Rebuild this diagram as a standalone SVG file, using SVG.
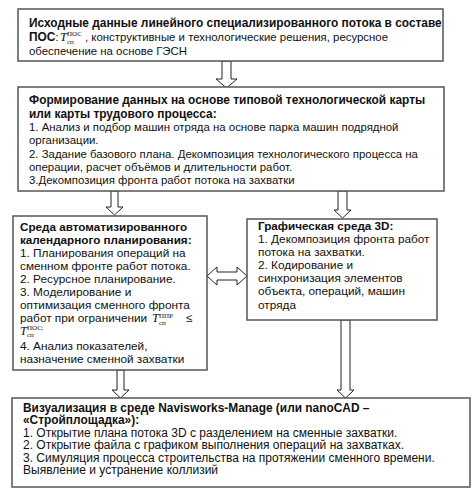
<svg xmlns="http://www.w3.org/2000/svg" width="474" height="493" viewBox="0 0 474 493">
<style>
.box{fill:#fff;stroke:#555;stroke-width:1.5}
.arr{fill:#fff;stroke:#222;stroke-width:1}
text{font-family:"Liberation Sans",Arial,sans-serif;font-size:11.4px;fill:#111}
.b{font-weight:bold;font-size:11.9px}
.r12{font-size:11.8px}
.b12{font-weight:bold;font-size:11.7px}
.r5{font-size:12px}
.m{font-family:"Liberation Serif","Times New Roman",serif;font-style:italic;font-size:12.5px}
.s{font-family:"Liberation Serif","Times New Roman",serif;font-size:7px}
</style>
<rect width="474" height="493" fill="#fff"/>
<g id="connectors">
<path class="arr" d="M222,61 V79 H216 L226.5,88 L237,79 H231 V61 Z"/>
<path class="arr" d="M111,191 V207 H106 L114.5,215 L123,207 H118 V191 Z"/>
<path class="arr" d="M338,191 V210 H334 L342.5,218 L351,210 H347 V191 Z"/>
<path class="arr" d="M207,276 L217,267 V272 H237 V267 L247,276 L237,285 V280 H217 V285 Z"/>
<path class="arr" d="M117,370 V390 H112 L120.5,398 L129,390 H124 V370 Z"/>
<path class="arr" d="M341,320 V390 H337 L345.5,398 L354,390 H350 V320 Z"/>
</g>
<g id="n1">
<rect class="box" x="18" y="9" width="425" height="52"/>
<text x="29" y="27" class="b">Исходные данные линейного специализированного потока в составе</text>
<text x="29" y="41"><tspan class="b">ПОС</tspan>:</text>
<text x="60" y="41" class="m">T</text>
<text x="67" y="43.5" class="s">сп</text>
<text x="67" y="35.5" class="s">ПОС</text>
<text x="85" y="41">, конструктивные и технологические решения, ресурсное</text>
<text x="29" y="55">обеспечение на основе ГЭСН</text>
</g>
<g id="n2">
<rect class="box" x="18" y="87" width="426" height="104"/>
<text x="29" y="104" class="b">Формирование данных на основе типовой технологической карты</text>
<text x="29" y="117.5" class="b">или карты трудового процесса:</text>
<text x="29" y="131">1. Анализ и подбор машин отряда на основе парка машин подрядной</text>
<text x="29" y="144">организации.</text>
<text x="29" y="157.5">2. Задание базового плана. Декомпозиция технологического процесса на</text>
<text x="29" y="170.5">операции, расчет объёмов и длительности работ.</text>
<text x="29" y="184">3.Декомпозиция фронта работ потока на захватки</text>
</g>
<g id="n3">
<rect class="box" x="13" y="216" width="194" height="154"/>
<text x="20" y="231" class="b12">Среда автоматизированного</text>
<text x="20" y="244" class="b12">календарного планирования:</text>
<text x="20" y="257" class="r12">1. Планирования операций на</text>
<text x="20" y="270" class="r12">сменном фронте работ потока.</text>
<text x="20" y="283" class="r12">2. Ресурсное планирование.</text>
<text x="20" y="296" class="r12">3. Моделирование и</text>
<text x="20" y="309" class="r12">оптимизация сменного фронта</text>
<text x="20" y="322" class="r12">работ при ограничении</text>
<text x="152" y="322" class="m">T</text>
<text x="159" y="324.5" class="s">сп</text>
<text x="159" y="317.5" class="s">ППР</text>
<text x="186" y="322" class="r12">≤</text>
<text x="20" y="335" class="m">T</text>
<text x="27" y="337" class="s">сп</text>
<text x="27" y="330" class="s">ПОС</text>
<text x="41" y="330" class="s">;</text>
<text x="20" y="349.5" class="r12">4. Анализ показателей,</text>
<text x="20" y="362.5" class="r12">назначение сменной захватки</text>
</g>
<g id="n4">
<rect class="box" x="247" y="219" width="190" height="101"/>
<text x="258" y="230" class="b12">Графическая среда 3D:</text>
<text x="258" y="243" class="r12">1. Декомпозиция фронта работ</text>
<text x="258" y="256" class="r12">потока на захватки.</text>
<text x="258" y="269" class="r12">2. Кодирование и</text>
<text x="258" y="282" class="r12">синхронизация элементов</text>
<text x="258" y="295" class="r12">объекта, операций, машин</text>
<text x="258" y="309" class="r12">отряда</text>
</g>
<g id="n5">
<rect class="box" x="12" y="398" width="458" height="89"/>
<text x="23" y="411.5" class="b">Визуализация в среде Navisworks-Manage (или nanoCAD –</text>
<text x="23" y="424" class="b">«Стройплощадка»):</text>
<text x="23" y="436.5" class="r5">1. Открытие плана потока 3D с разделением на сменные захватки.</text>
<text x="23" y="449" class="r5">2. Открытие файла с графиком выполнения операций на захватках.</text>
<text x="23" y="461.5" class="r5">3. Симуляция процесса строительства на протяжении сменного времени.</text>
<text x="23" y="474" class="r5">Выявление и устранение коллизий</text>
</g>
</svg>
